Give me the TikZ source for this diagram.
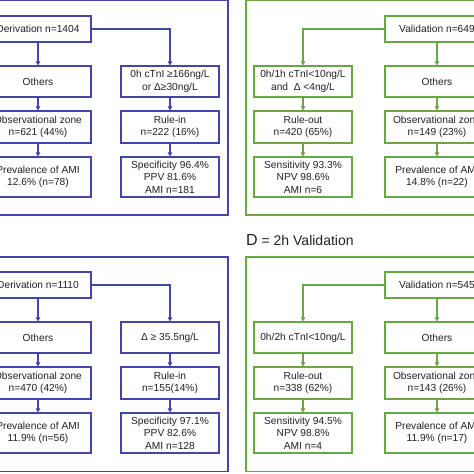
\documentclass[tikz,border=0pt]{standalone}
\usepackage{fontspec}
\setmainfont{Liberation Sans}
\usetikzlibrary{arrows.meta}
\definecolor{bl}{RGB}{68,68,170}
\definecolor{gr}{RGB}{104,168,64}
\definecolor{tx}{RGB}{34,34,34}
\begin{document}
\begin{tikzpicture}[x=1pt,y=-1pt,
  bx/.style={draw=#1, line width=1.2pt, align=center, inner sep=0pt, text=tx,
             font=\fontsize{10.2}{12.5}\selectfont, fill=white},
  ar/.style={draw=#1, line width=1.2pt, -{Triangle[length=4pt,width=4.5pt,fill=#1]}},
  frm/.style={draw=#1, line width=1.4pt},
  rA/.style={minimum height=26pt}, rB/.style={minimum height=31pt},
  rC/.style={minimum height=32pt}, rD/.style={minimum height=40pt},
  cW/.style={minimum width=106pt}, cN/.style={minimum width=98pt},
  cM/.style={minimum width=104pt}]
\useasboundingbox (0,0) rectangle (474,474);
\clip (0,0) rectangle (474,474);

% frames
\draw[frm=bl] (-24,0.5) rectangle (228,215);
\draw[frm=gr] (246,0.5) rectangle (498,215);
\draw[frm=bl] (-24,257) rectangle (228,471.5);
\draw[frm=gr] (246,257) rectangle (498,471.5);

% ---------- top left ----------
\node[bx=bl,cW,rA] (tlD) at (38,29) {Derivation n=1404};
\node[bx=bl,cW,rB] (tlO) at (38,81.5) {Others};
\node[bx=bl,cW,rC] (tlZ) at (38,127) {Observational zone\\n=621 (44\%)};
\node[bx=bl,cW,rD] (tlP) at (38,177) {Prevalence of AMI\\12.6\% (n=78)};
\node[bx=bl,cN,rB] (tlC) at (170,81.5) {0h cTnI ≥166ng/L\\or Δ≥30ng/L};
\node[bx=bl,cN,rC] (tlR) at (170,127) {Rule-in\\n=222 (16\%)};
\node[bx=bl,cN,rD] (tlS) at (170,177) {Specificity 96.4\%\\PPV 81.6\%\\AMI n=181};
\draw[ar=bl] (tlD) -- (tlO);
\draw[ar=bl] (tlO) -- (tlZ);
\draw[ar=bl] (tlZ) -- (tlP);
\draw[ar=bl] (tlD.east) -| (tlC.north);
\draw[ar=bl] (tlC) -- (tlR);
\draw[ar=bl] (tlR) -- (tlS);

% ---------- top right ----------
\node[bx=gr,cM,rA] (trV) at (437,29) {Validation n=649};
\node[bx=gr,cN,rB] (trC) at (303,81.5) {0h/1h cTnI<10ng/L\\and \ Δ <4ng/L};
\node[bx=gr,cN,rC] (trR) at (303,127) {Rule-out\\n=420 (65\%)};
\node[bx=gr,cN,rD] (trS) at (303,177) {Sensitivity 93.3\%\\NPV 98.6\%\\AMI n=6};
\node[bx=gr,cM,rB] (trO) at (437,81.5) {Others};
\node[bx=gr,cM,rC] (trZ) at (437,127) {Observational zone\\n=149 (23\%)};
\node[bx=gr,cM,rD] (trP) at (437,177) {Prevalence of AMI\\14.8\% (n=22)};
\draw[ar=gr] (trV.west) -| (trC.north);
\draw[ar=gr] (trC) -- (trR);
\draw[ar=gr] (trR) -- (trS);
\draw[ar=gr] (trV) -- (trO);
\draw[ar=gr] (trO) -- (trZ);
\draw[ar=gr] (trZ) -- (trP);

% title
\node[anchor=base west, inner sep=0pt, text=tx] (ttl) at (246,245.7)
  {\fontsize{16}{16}\selectfont D\fontsize{14}{14}\selectfont{} = 2h Validation};

% ---------- bottom left ----------
\node[bx=bl,cW,rA] (blD) at (38,285) {Derivation n=1110};
\node[bx=bl,cW,rB] (blO) at (38,337.5) {Others};
\node[bx=bl,cW,rC] (blZ) at (38,383) {Observational zone\\n=470 (42\%)};
\node[bx=bl,cW,rD] (blP) at (38,433) {Prevalence of AMI\\11.9\% (n=56)};
\node[bx=bl,cN,rB] (blC) at (170,337.5) {Δ ≥ 35.5ng/L};
\node[bx=bl,cN,rC] (blR) at (170,383) {Rule-in\\n=155(14\%)};
\node[bx=bl,cN,rD] (blS) at (170,433) {Specificity 97.1\%\\PPV 82.6\%\\AMI n=128};
\draw[ar=bl] (blD) -- (blO);
\draw[ar=bl] (blO) -- (blZ);
\draw[ar=bl] (blZ) -- (blP);
\draw[ar=bl] (blD.east) -| (blC.north);
\draw[ar=bl] (blC) -- (blR);
\draw[ar=bl] (blR) -- (blS);

% ---------- bottom right ----------
\node[bx=gr,cM,rA] (brV) at (437,285) {Validation n=545};
\node[bx=gr,cN,rB] (brC) at (303,337.5) {0h/2h cTnI<10ng/L};
\node[bx=gr,cN,rC] (brR) at (303,383) {Rule-out\\n=338 (62\%)};
\node[bx=gr,cN,rD] (brS) at (303,433) {Sensitivity 94.5\%\\NPV 98.8\%\\AMI n=4};
\node[bx=gr,cM,rB] (brO) at (437,337.5) {Others};
\node[bx=gr,cM,rC] (brZ) at (437,383) {Observational zone\\n=143 (26\%)};
\node[bx=gr,cM,rD] (brP) at (437,433) {Prevalence of AMI\\11.9\% (n=17)};
\draw[ar=gr] (brV.west) -| (brC.north);
\draw[ar=gr] (brC) -- (brR);
\draw[ar=gr] (brR) -- (brS);
\draw[ar=gr] (brV) -- (brO);
\draw[ar=gr] (brO) -- (brZ);
\draw[ar=gr] (brZ) -- (brP);
\end{tikzpicture}
\end{document}
